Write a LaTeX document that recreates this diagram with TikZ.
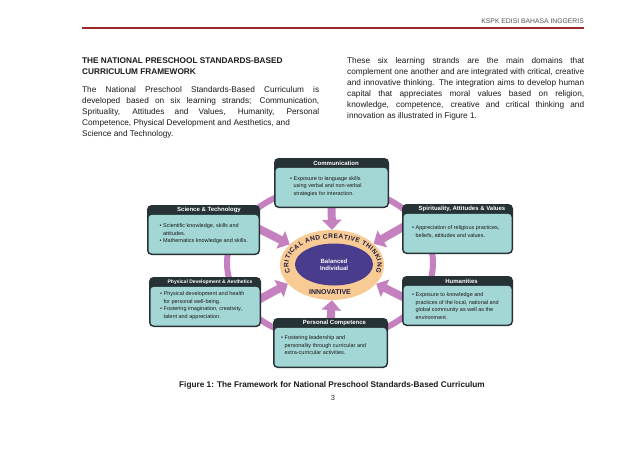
\documentclass[tikz,border=0pt]{standalone}
\usepackage{fontspec}
\setmainfont{Liberation Sans}
\newfontfamily\calibrifont{Carlito}
\usetikzlibrary{shapes.geometric,arrows.meta,calc,decorations.text}
\pgfdeclarelayer{bg}
\pgfsetlayers{bg,main}
\definecolor{boxteal}{HTML}{A3D7D5}
\definecolor{boxdark}{HTML}{263236}
\definecolor{ringpink}{HTML}{C581BF}
\definecolor{peach}{HTML}{F9CB94}
\definecolor{corepurple}{HTML}{4A3C8C}
\definecolor{ringtext}{HTML}{1F1D3D}
\definecolor{rulered}{HTML}{9A2A2A}
\definecolor{headgray}{HTML}{555555}
\definecolor{bodytext}{HTML}{1A1A1A}
\newcommand\txtline[3]{\node[txt] at (#1,#2) {#3};}
\newcommand\jline[3]{\node[txt] at (#1,#2) {\makebox[237pt][s]{#3}};}
\newcommand\bul[3]{\node[boxtxt] at (#1,#2) {\textbullet\ #3};}
\newcommand\cont[3]{\node[boxtxt] at (#1,#2) {\phantom{\textbullet\ }#3};}
% #1 name, #2 cx, #3 cy, #4 width, #5 title x, #6 title font, #7 title
\newcommand\strand[7]{%
  \node[strandouter, minimum width=#4pt] (#1) at (#2,#3) {};
  \fill[boxteal, rounded corners=3.5pt] ($(#1.north west)+(1.7,10)$) rectangle ($(#1.south east)+(-1.7,-1.7)$);
  \node[strandtitle, font=#6] (#1-title) at (#5,{#3-20}) {#7};
}
\begin{document}
\begin{tikzpicture}[x=1pt,y=-1pt,
  txt/.style={anchor=base west, inner sep=0, text=bodytext, font=\fontsize{8.25}{11}\selectfont},
  boxtxt/.style={anchor=base west, inner sep=0, text=bodytext, font=\fontsize{5.5}{7}\selectfont},
  strandouter/.style={rectangle, fill=boxdark, rounded corners=4.5pt, minimum height=50pt, inner sep=0},
  strandtitle/.style={inner sep=0, text=white},
  arrowblk/.style={draw=ringpink, line width=8pt, -{Triangle[length=10pt,width=19pt]}},
  ringline/.style={draw=ringpink, line width=6pt}
]
\begin{pgfonlayer}{bg}
\fill[white] (0,0) rectangle (638,451);
\end{pgfonlayer}
\useasboundingbox (0,0) rectangle (638,451);

% header
\node[anchor=base east, inner sep=0, text=headgray, font=\fontsize{6.8}{8}\selectfont] (hdr) at (584,23.5) {KSPK EDISI BAHASA INGGERIS};
\draw[rulered, line width=2pt] (82,27.5) -- (584,27.5);

% left column
\txtline{82}{63}{\bfseries THE NATIONAL PRESCHOOL STANDARDS-BASED}
\txtline{82}{74}{\bfseries CURRICULUM FRAMEWORK}
\jline{82}{92}{The National Preschool Standards-Based Curriculum is}
\jline{82}{103}{developed based on six learning strands; Communication,}
\jline{82}{114}{Sprituality, Attitudes and Values, Humanity, Personal}
\txtline{82}{125}{Competence, Physical Development and Aesthetics, and}
\txtline{82}{136}{Science and Technology.}

% right column
\jline{347}{63}{These six learning strands are the main domains that}
\jline{347}{74}{complement one another and are integrated with critical, creative}
\jline{347}{85}{and innovative thinking. The integration aims to develop human}
\jline{347}{96}{capital that appreciates moral values based on religion,}
\jline{347}{107}{knowledge, competence, creative and critical thinking and}
\txtline{347}{118}{innovation as illustrated in Figure 1.}

% centre
\node[ellipse, fill=peach, minimum width=104pt, minimum height=70pt, inner sep=0] (core) at (332,265) {};
\node[ellipse, fill=corepurple, minimum width=78pt, minimum height=42pt, inner sep=0, text=white, align=center, font=\bfseries\fontsize{6}{7}\selectfont] (bal) at (334,264.5) {Balanced\\Individual};
\path[decorate, decoration={text along path, text color=ringtext, text align=fit to path,
  text={|\bfseries\fontsize{6.6}{7}\selectfont|CRITICAL AND CREATIVE THINKING}}]
  (290.4,272.1) arc[start angle=197, end angle=-17, x radius=44.5pt, y radius=26pt];
\node[inner sep=0, text=ringtext, font=\bfseries\fontsize{7}{8}\selectfont] (innov) at (330,292) {INNOVATIVE};

% strands
\strand{comm}{331.5}{183}{115}{336}{\bfseries\fontsize{6}{7}\selectfont}{Communication}
\bul{290}{180}{Exposure to language skills}
\cont{290}{187.5}{using verbal and non-verbal}
\cont{290}{195}{strategies for interaction.}

\strand{sci}{203.5}{230}{113}{209}{\bfseries\fontsize{6}{7}\selectfont}{Science \& Technology}
\bul{159.5}{227.5}{Scientific knowledge, skills and}
\cont{159.5}{235}{attitudes.}
\bul{159.5}{242.5}{Mathematics knowledge and skills.}

\strand{spir}{457.5}{229}{111}{462}{\bfseries\fontsize{6}{7}\selectfont}{Spirituality, Attitudes \& Values}
\bul{412}{229.5}{Appreciation of religious practices,}
\cont{412}{237}{beliefs, attitudes and values.}

\strand{phys}{205}{302}{112}{210}{\bfseries\fontsize{5}{6}\selectfont}{Physical Development \& Aesthetics}
\bul{160}{295.5}{Physical development and health}
\cont{160}{303}{for personal well-being.}
\bul{160}{310.5}{Fostering imagination, creativity,}
\cont{160}{318}{talent and appreciation.}

\strand{pers}{330.5}{343}{115}{334.5}{\bfseries\fontsize{6}{7}\selectfont}{Personal Competence}
\bul{281}{339.5}{Fostering leadership and}
\cont{281}{347}{personality through curricular and}
\cont{281}{354.5}{extra-curricular activities.}

\strand{hum}{457.5}{301}{111}{461.5}{\bfseries\fontsize{6}{7}\selectfont}{Humanities}
\bul{412}{296.5}{Exposure to knowledge and}
\cont{412}{304}{practices of the local, national and}
\cont{412}{311.5}{global community as well as the}
\cont{412}{319}{environment.}

% ring and arrows behind
\begin{pgfonlayer}{bg}
\draw[ringline] (330,263) ellipse [x radius=103pt, y radius=77pt];
\draw[arrowblk] ($(comm.south)+(0,-3)$) -- (core.north);
\draw[arrowblk] ($(sci.east)+(-3,-2)$) -- (core.154);
\draw[arrowblk] ($(spir.west)+(3,-3)$) -- (core.27);
\draw[arrowblk] ($(phys.east)+(-3,-2)$) -- (core.203);
\draw[arrowblk] ($(hum.west)+(3,-3)$) -- (core.337);
\draw[arrowblk] ($(pers.north)+(0,3)$) -- (core.south);
\end{pgfonlayer}

% caption
\node[anchor=base, inner sep=0, text=bodytext, font=\bfseries\fontsize{8.25}{10}\selectfont] (cap) at (332,387) {Figure 1: The Framework for National Preschool Standards-Based Curriculum};
\node[anchor=base, inner sep=0, text=bodytext, font=\calibrifont\fontsize{8}{9}\selectfont] (pg) at (333,400) {3};
\end{tikzpicture}
\end{document}
